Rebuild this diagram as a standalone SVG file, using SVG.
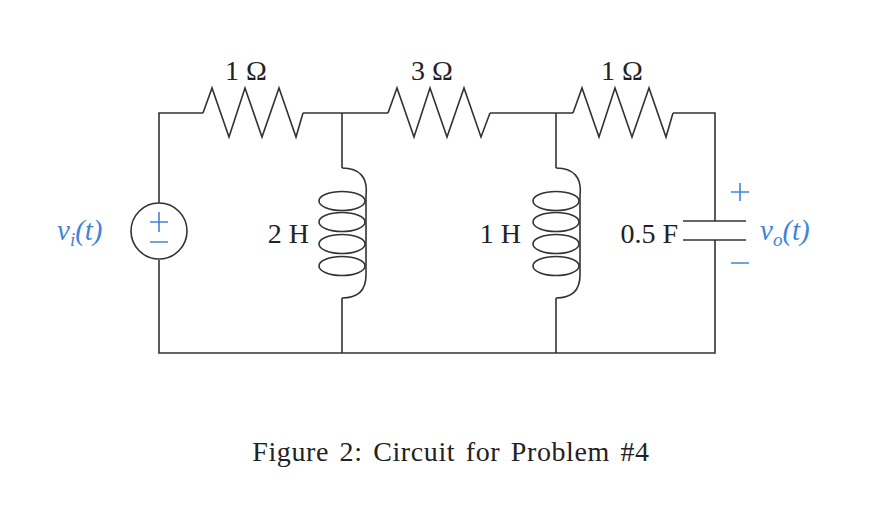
<svg xmlns="http://www.w3.org/2000/svg" width="872" height="508" viewBox="0 0 872 508">
<style>
.w{fill:none;stroke:#333;stroke-width:1.6;stroke-linejoin:miter}
.t{font-family:"Liberation Serif",serif;font-size:28px;fill:#222}
.b{font-family:"Liberation Serif",serif;font-size:29px;fill:#3f86d6;font-style:italic}
.bs{stroke:#3f86d6;stroke-width:1.6}
</style>
<rect width="872" height="508" fill="#fff"/>
<g id="wires" class="w">
<path d="M159,203 V113 H203 M303,113 H388 M490,113 H573 M673,113 H715 V221 M715,240 V353 H159 V260"/>
<path d="M342,113 V168 M342,298 V353 M556,113 V168 M556,298 V353"/>
</g>
<g id="R1" class="w"><path d="M203,113 L212,88 L229,137 L245,88 L262,137 L279,88 L296,137 L303,113"/></g>
<g id="R2" class="w"><path d="M388,113 L397,88 L414,137 L430,88 L447,137 L464,88 L481,137 L490,113"/></g>
<g id="R3" class="w"><path d="M573,113 L582,88 L599,137 L615,88 L632,137 L649,88 L666,137 L673,113"/></g>
<g id="L1" class="w">
<path d="M342,168 C360,168 368,178 366,195 C366,230 366,250 366,275 C366,290 358,298 342,298"/>
<ellipse cx="342" cy="201" rx="23" ry="9.5"/><ellipse cx="342" cy="222" rx="23" ry="9.5"/><ellipse cx="342" cy="244" rx="23" ry="9.5"/><ellipse cx="342" cy="266" rx="23" ry="9.5"/>
</g>
<g id="L2" class="w">
<path d="M556,168 C574,168 582,178 580,195 C580,230 580,250 580,275 C580,290 572,298 556,298"/>
<ellipse cx="556" cy="201" rx="23" ry="9.5"/><ellipse cx="556" cy="222" rx="23" ry="9.5"/><ellipse cx="556" cy="244" rx="23" ry="9.5"/><ellipse cx="556" cy="266" rx="23" ry="9.5"/>
</g>
<g id="C" class="w"><path d="M683,221 H746 M683,240 H746"/></g>
<g id="Vs">
<circle cx="159" cy="231" r="28" class="w"/>
<path d="M159,212 V232 M150,222 H168 M150,242 H168" class="bs"/>
</g>
<g id="labels">
<text x="246" y="80" class="t" text-anchor="middle">1 Ω</text>
<text x="432" y="80" class="t" text-anchor="middle">3 Ω</text>
<text x="622" y="80" class="t" text-anchor="middle">1 Ω</text>
<text x="309" y="243" class="t" text-anchor="end">2 H</text>
<text x="521" y="243" class="t" text-anchor="end">1 H</text>
<text x="678" y="243" class="t" text-anchor="end">0.5 F</text>
<text x="57" y="240" class="b">v<tspan font-size="19" dy="6">i</tspan><tspan dy="-6">(t)</tspan></text>
<text x="760" y="240" class="b">v<tspan font-size="19" dy="6">o</tspan><tspan dy="-6">(t)</tspan></text>
<path d="M740,183 V201 M731,192 H749 M731,263 H749" class="bs"/>
<text x="451" y="461" class="t" text-anchor="middle" font-size="24" word-spacing="3" letter-spacing="0.6">Figure 2: Circuit for Problem #4</text>
</g>
</svg>
